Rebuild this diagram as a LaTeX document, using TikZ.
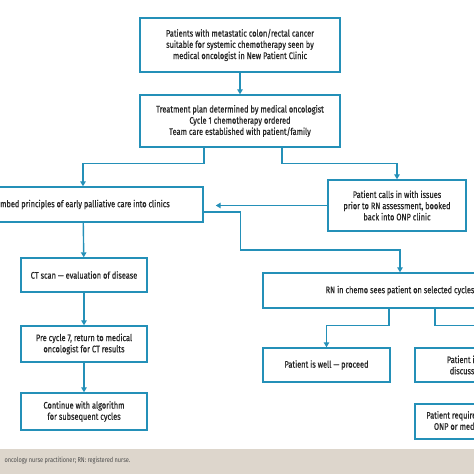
\documentclass[tikz,border=0pt]{standalone}
\usepackage{fontspec}
\setmainfont{Fira Sans}[FakeStretch=0.78, FakeBold=0.5]
\newfontfamily\notefont{Fira Sans}[FakeStretch=0.8]
\usepackage{tikz}
\usetikzlibrary{arrows.meta,positioning,calc}
\definecolor{flowblue}{RGB}{36,144,184}
\definecolor{noteband}{RGB}{221,214,204}

\begin{document}
\begin{tikzpicture}[x=1pt, y=-1pt,
        every node/.style={font=\fontsize{9.5}{11.2}\selectfont, text=black!85},
        box/.style={draw=flowblue, line width=1.4pt, align=center, inner sep=0pt, fill=white},
        arr/.style={draw=flowblue, line width=1.4pt, -{Triangle[length=5pt, width=5.5pt]}},
        link/.style={draw=flowblue, line width=1.4pt}]
    \useasboundingbox (0,0) rectangle (474,474);
    \clip (0,0) rectangle (474,474);

    \node[box, minimum width=200, minimum height=54] (start) at (240,45)
        {Patients with metastatic colon/rectal cancer\\suitable for systemic chemotherapy seen by\\medical oncologist in New Patient Clinic};
    \node[box, minimum width=200, minimum height=52] (plan) at (240,121)
        {Treatment plan determined by medical oncologist\\Cycle 1 chemotherapy ordered\\Team care established with patient/family};
    \node[box, minimum width=240, minimum height=35] (embed) at (83,204.5)
        {Embed principles of early palliative care into clinics};
    \node[box, minimum width=138, minimum height=51] (calls) at (397,205.5)
        {Patient calls in with issues\\prior to RN assessment, booked\\back into ONP clinic};
    \node[box, minimum width=126, minimum height=34] (ct) at (84,275)
        {CT scan --- evaluation of disease};
    \node[box, minimum width=126, minimum height=36] (pre) at (84,344)
        {Pre cycle 7, return to medical\\oncologist for CT results};
    \node[box, minimum width=126, minimum height=37] (cont) at (84,411.5)
        {Continue with algorithm\\for subsequent cycles};
    \node[box, minimum width=274, minimum height=35] (rn) at (400,290.5)
        {RN in chemo sees patient on selected cycles};
    \node[box, minimum width=127, minimum height=34] (well) at (326.5,365)
        {Patient is well --- proceed};
    \node[box, minimum width=127, minimum height=34] (unwell) at (478.5,365)
        {Patient is unwell ---\\discuss with ONP};
    \node[box, minimum width=127, minimum height=35] (needs) at (478.5,421.5)
        {Patient requires assessment by\\ONP or medical oncologist};

    % connectors
    \draw[arr] (start) -- (plan);
    \draw[arr] ([xshift=-36pt]plan.south) -- ++(0,16) -| (embed.north);
    \draw[arr] ([xshift=42pt]plan.south) -- ++(0,16) -| (calls.north);
    \draw[arr] (calls.west) -- ([xshift=12pt]embed.east |- calls.west);
    \draw[arr] ([yshift=-7.5pt]embed.east) -- ++(37,0) -- ++(0,38) -| (rn.north);
    \draw[arr] (embed) -- (ct);
    \draw[arr] (ct) -- (pre);
    \draw[arr] (pre) -- (cont);
    \draw[arr] ([xshift=-11pt]rn.south) -- ++(0,17) -| (well.north);
    \draw[arr] ([xshift=35pt]rn.south) -- ++(0,17) -| (unwell.north);

    % footnote band
    \fill[noteband] (0,449) rectangle (474,474);
    \node[anchor=west, font=\notefont\fontsize{7}{8}\selectfont, text=black!70] (note) at (1,461)
        {oncology nurse practitioner; RN: registered nurse.};
\end{tikzpicture}
\end{document}
